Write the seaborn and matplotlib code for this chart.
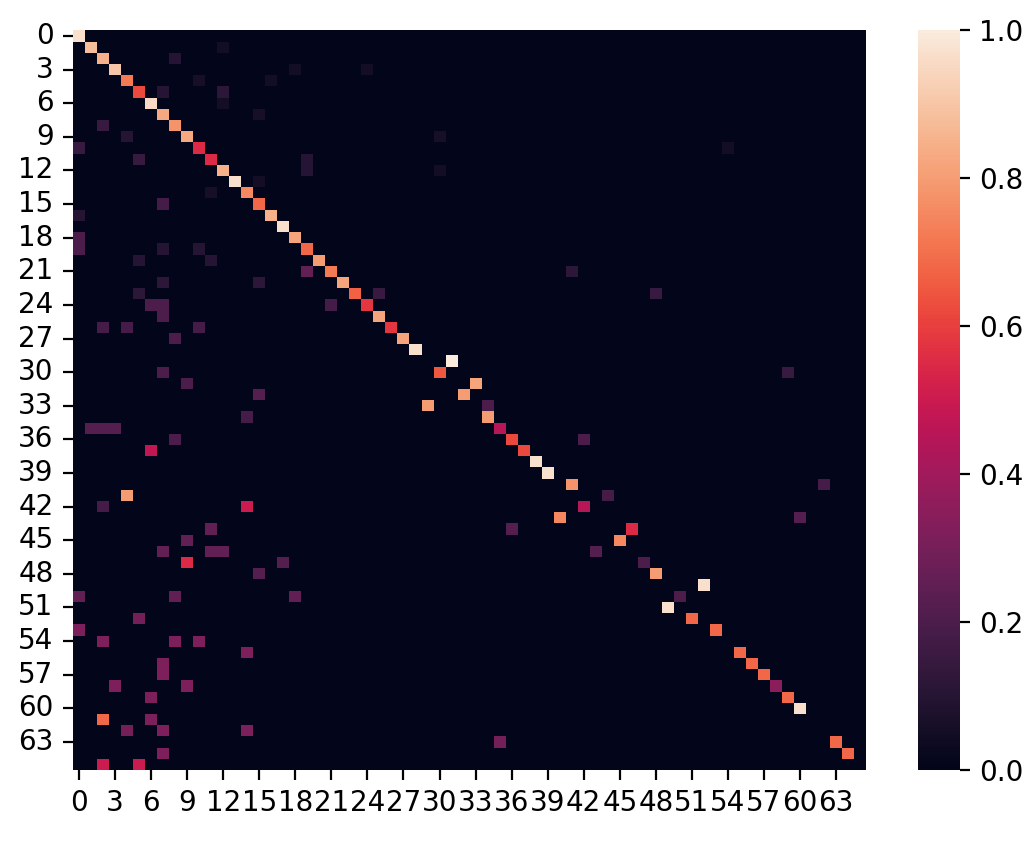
import numpy as np
import matplotlib
matplotlib.use("Agg")
import matplotlib.pyplot as plt
import seaborn as sns

n = 66

# diagonal-ish entries (row, col, value)
diag_rows = list(range(29)) + [29, 30, 31, 32, 33, 34, 35, 36, 37, 38, 39, 40, 41, 42, 43, 44, 45,
                               46, 47, 48, 49, 50, 51, 52, 53, 55, 56, 57, 58, 59, 60, 63, 64]
diag_cols = list(range(29)) + [31, 30, 33, 32, 29, 34, 35, 36, 37, 38, 39, 41, 44, 42, 40, 46, 45,
                               43, 47, 48, 52, 50, 49, 51, 53, 55, 56, 57, 58, 59, 60, 63, 64]
diag_vals = [0.97, 0.88, 0.85, 0.9, 0.72, 0.62, 0.95, 0.83, 0.78, 0.83, 0.55, 0.55, 0.85, 0.97,
             0.75, 0.68, 0.85, 0.97, 0.82, 0.68, 0.8, 0.72, 0.82, 0.67, 0.58, 0.82, 0.58, 0.82, 0.97,
             1.0, 0.65, 0.82, 0.8, 0.8, 0.8, 0.45, 0.62, 0.62, 0.97, 0.97, 0.78, 0.18, 0.45, 0.75,
             0.55, 0.75, 0.22, 0.2, 0.8, 0.97, 0.2, 0.97, 0.68, 0.68, 0.68, 0.68, 0.68, 0.35, 0.68,
             0.97, 0.68, 0.68]

# scattered off-diagonal entries
off_rows = [2, 5, 5, 8, 9, 10, 11, 11, 12, 15, 16, 18, 19, 19, 19, 20, 20, 21, 22, 22, 23, 23,
            24, 24, 24, 25, 26, 26, 26, 27, 30, 31, 32, 33, 34, 35, 35, 35, 36, 36, 37, 30, 40,
            41, 42, 42, 43, 44, 44, 45, 46, 46, 46, 47, 47, 48, 50, 50, 50, 52, 53, 54, 54, 54,
            55, 56, 57, 58, 58, 59, 61, 61, 62, 62, 62, 63, 64, 65, 65, 21, 23,
            1, 3, 4, 4, 6, 7, 3, 13, 14, 9, 10, 12]
off_cols = [8, 7, 12, 2, 4, 0, 5, 19, 19, 7, 0, 0, 0, 7, 10, 5, 11, 19, 7, 15, 5, 25,
            6, 7, 21, 7, 2, 4, 10, 8, 7, 9, 15, 34, 14, 1, 2, 3, 8, 42, 6, 59, 62,
            4, 2, 14, 60, 11, 36, 9, 7, 11, 12, 9, 17, 15, 0, 8, 18, 5, 0, 2, 8, 10,
            14, 7, 7, 3, 9, 6, 2, 6, 4, 7, 14, 35, 7, 2, 5, 41, 48,
            12, 24, 10, 16, 12, 15, 18, 15, 11, 30, 54, 30]
off_vals = [0.1, 0.1, 0.12, 0.15, 0.1, 0.15, 0.15, 0.1, 0.1, 0.18, 0.1, 0.2, 0.2, 0.1, 0.1,
            0.1, 0.1, 0.25, 0.12, 0.12, 0.12, 0.15, 0.2, 0.2, 0.18, 0.2, 0.18, 0.18, 0.18, 0.2,
            0.2, 0.2, 0.22, 0.2, 0.18, 0.22, 0.22, 0.22, 0.2, 0.2, 0.48, 0.15, 0.18,
            0.8, 0.18, 0.5, 0.22, 0.25, 0.22, 0.25, 0.25, 0.25, 0.25, 0.55, 0.22, 0.22, 0.25,
            0.25, 0.25, 0.3, 0.32, 0.32, 0.32, 0.32, 0.32, 0.32, 0.32, 0.32, 0.32, 0.32, 0.68,
            0.32, 0.3, 0.32, 0.32, 0.3, 0.32, 0.5, 0.5, 0.12, 0.15,
            0.05, 0.05, 0.06, 0.05, 0.05, 0.06, 0.05, 0.05, 0.06, 0.06, 0.05, 0.05]

mat = np.zeros((n, n))
mat[diag_rows, diag_cols] = diag_vals
mat[off_rows, off_cols] = off_vals

fig = plt.figure(figsize=(5.18, 4.22), dpi=200)
ax = fig.add_axes([0.0705, 0.0877, 0.7655, 0.8763])
cax = fig.add_axes([0.886, 0.0877, 0.0405, 0.8763])
sns.heatmap(mat, ax=ax, cbar_ax=cax, vmin=0, vmax=1, xticklabels=3, yticklabels=3)
ax.set_yticklabels(ax.get_yticklabels(), rotation=0)
ax.set_xticklabels(ax.get_xticklabels(), rotation=0)
fig.savefig("out.png", dpi=200)
